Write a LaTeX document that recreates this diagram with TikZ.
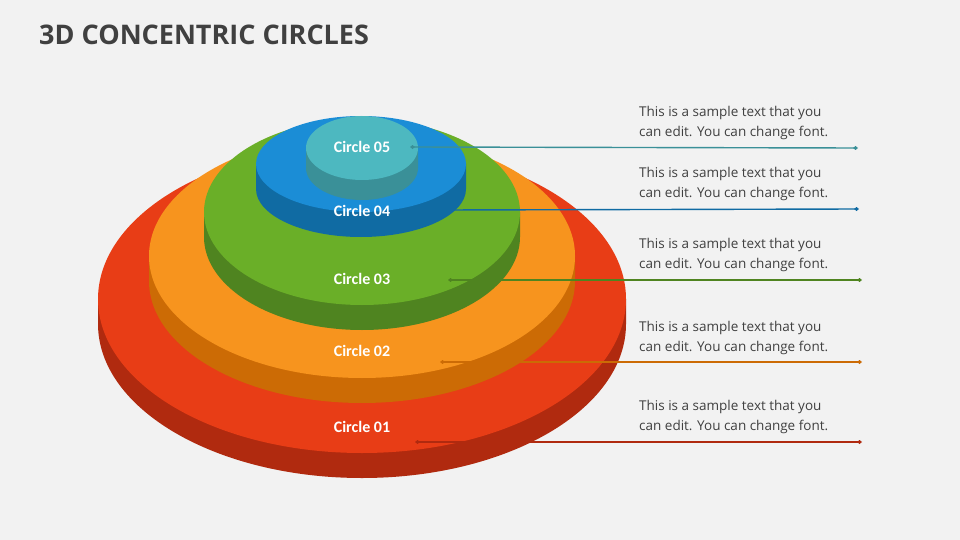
\documentclass[tikz,border=0pt]{standalone}
\usepackage{fontspec}
\setmainfont{Open Sans}
\newfontfamily\lblfont{Carlito}
\usetikzlibrary{arrows.meta}
\definecolor{bg}{HTML}{F2F2F2}
\definecolor{redT}{HTML}{E83D16}\definecolor{redS}{HTML}{B02A0F}
\definecolor{orT}{HTML}{F7941E}\definecolor{orS}{HTML}{CC6B05}
\definecolor{grT}{HTML}{6AAF28}\definecolor{grS}{HTML}{4F8420}
\definecolor{blT}{HTML}{1B8DD6}\definecolor{blS}{HTML}{106BA3}
\definecolor{tlT}{HTML}{4DB8C0}\definecolor{tlS}{HTML}{3A9098}
\definecolor{txt}{HTML}{404040}
\newcommand{\cyl}[6]{% cx cy rx ry depth color
  \fill[#6S] (#1-#3,#2) -- (#1-#3,#2+#5) arc[start angle=180,end angle=360,x radius=#3,y radius=-#4] -- (#1+#3,#2) -- cycle;
  \fill[#6T] (#1,#2) ellipse[x radius=#3,y radius=#4];}
\tikzset{lbl/.style={text=white,font=\lblfont\bfseries\fontsize{16}{18}\selectfont},
 desc/.style={anchor=west,align=left,text=txt,font=\fontsize{13.5}{19.5}\selectfont,inner sep=0pt},
 conn/.style={line width=1.4pt,{Diamond[length=5pt,width=4pt]}-{Diamond[length=5pt,width=4pt]}}}
\begin{document}
\begin{tikzpicture}[x=1pt,y=-1pt]
\fill[bg] (0,0) rectangle (960,540);
\useasboundingbox (0,0) rectangle (960,540);
\node[anchor=west,text=txt,font=\bfseries\fontsize{27}{30}\selectfont,inner sep=0pt] (title) at (39,35) {3D CONCENTRIC CIRCLES};
\cyl{362}{299}{264}{154}{25}{red}
\cyl{362}{256}{213}{122}{25}{or}
\cyl{362}{212}{158}{93}{25}{gr}
\cyl{361}{164}{105}{48}{25}{bl}
\cyl{362}{148}{56}{32}{20}{tl}
\node[lbl] (c5) at (362,147) {Circle 05};
\node[lbl] (c4) at (362,211) {Circle 04};
\node[lbl] (c3) at (362,279) {Circle 03};
\node[lbl] (c2) at (362,351) {Circle 02};
\node[lbl] (c1) at (362,427) {Circle 01};
\coordinate (a5) at (410,147);\coordinate (b5) at (858,148);
\coordinate (a4) at (442,210);\coordinate (b4) at (859,209);
\coordinate (a3) at (448,280);\coordinate (b3) at (862,280);
\coordinate (a2) at (440,362);\coordinate (b2) at (862,362);
\coordinate (a1) at (415,442);\coordinate (b1) at (862,442);
\draw[conn,tlS] (a5) -- (b5);
\draw[conn,blS] (a4) -- (b4);
\draw[conn,grS] (a3) -- (b3);
\draw[conn,orS] (a2) -- (b2);
\draw[conn,redS] (a1) -- (b1);
\node[desc] (t5) at (639,123) {This is a sample text that you\\can edit. You can change font.};
\node[desc] (t4) at (639,184) {This is a sample text that you\\can edit. You can change font.};
\node[desc] (t3) at (639,255) {This is a sample text that you\\can edit. You can change font.};
\node[desc] (t2) at (639,338) {This is a sample text that you\\can edit. You can change font.};
\node[desc] (t1) at (639,417) {This is a sample text that you\\can edit. You can change font.};
\end{tikzpicture}
\end{document}
